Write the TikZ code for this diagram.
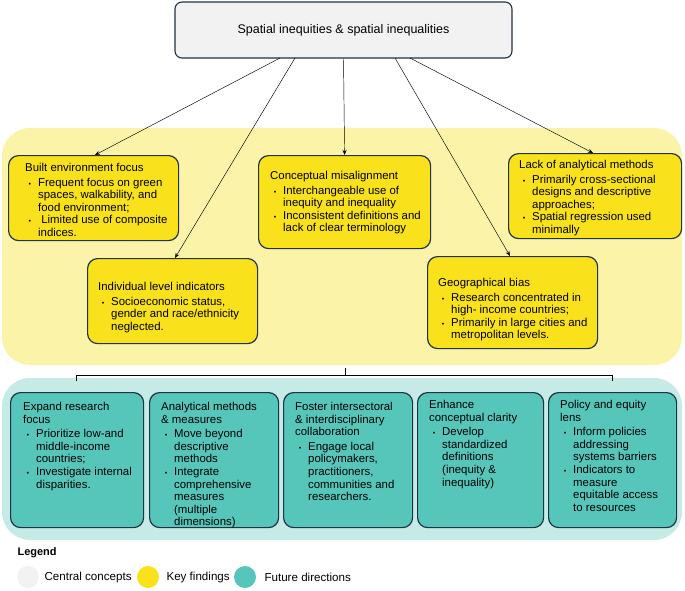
\documentclass[tikz,border=0pt]{standalone}
\usepackage{fontspec}
\setmainfont{Liberation Sans}
\usepackage{enumitem}
\usetikzlibrary{arrows.meta}
\definecolor{dk}{HTML}{1F3344}
\definecolor{ybg}{HTML}{FBF4A8}
\definecolor{yb}{HTML}{F9E21B}
\definecolor{tbg}{HTML}{C6EBE6}
\definecolor{tb}{HTML}{57C6BA}
\definecolor{gb}{HTML}{F2F2F2}
\newlist{bl}{itemize}{1}
\setlist[bl]{label={\scriptsize\textbullet},leftmargin=13pt,labelsep=7pt,itemsep=0pt,topsep=2pt,parsep=0pt,partopsep=0pt}
\tikzset{
 box/.style={draw=dk,line width=1.2pt,rounded corners=10pt,anchor=north west,inner sep=0pt},
 yel/.style={box,fill=yb},
 tea/.style={box,fill=tb},
 arr/.style={-{Stealth[length=5pt,width=4pt]},line width=0.45pt},
 txt/.style={anchor=north west,inner sep=0pt,font=\fontsize{11.4}{12.6}\selectfont},
}
\newcommand{\boxtext}[3]{\begin{minipage}[t]{#1pt}\raggedright\hyphenpenalty=10000 \exhyphenpenalty=10000 #2\begin{bl}#3\end{bl}\end{minipage}}
\begin{document}
\begin{tikzpicture}[x=1pt,y=-1pt]
\useasboundingbox (0,0) rectangle (685,591);
\fill[ybg,rounded corners=28pt] (2,128) rectangle (682,365);
\fill[tbg,rounded corners=28pt] (2,378) rectangle (682,540);
\node[draw=dk,line width=1.1pt,fill=gb,rounded corners=7pt,minimum width=337pt,minimum height=56pt,font=\fontsize{12.5}{14}\selectfont] (top) at (343.5,30) {Spatial inequities \& spatial inequalities};
% yellow boxes
\node[yel,minimum width=170pt,minimum height=85pt] (be) at (8,155) {};
\node[txt] at (25,163) {\boxtext{150}{Built environment focus}{\item Frequent focus on green spaces, walkability, and food environment;\item \ Limited use of composite indices.}};
\node[yel,minimum width=170pt,minimum height=85pt] (ind) at (87,258) {};
\node[txt] at (98,282) {\boxtext{155}{Individual level indicators}{\item Socioeconomic status, gender and race/ethnicity neglected.}};
\node[yel,minimum width=172pt,minimum height=93pt] (con) at (258,155) {};
\node[txt] at (270,171) {\boxtext{158}{Conceptual misalignment}{\item Interchangeable use of inequity and inequality\item Inconsistent definitions and lack of clear terminology}};
\node[yel,minimum width=173pt,minimum height=85pt] (lack) at (508,153) {};
\node[txt] at (519,160) {\boxtext{158}{Lack of analytical methods}{\item Primarily cross-sectional designs and descriptive approaches;\item Spatial regression used minimally}};
\node[yel,minimum width=170pt,minimum height=92pt] (geo) at (427,256) {};
\node[txt] at (438,278) {\boxtext{152}{Geographical bias}{\item Research concentrated in high- income countries;\item Primarily in large cities and metropolitan levels.}};
% arrows
\draw[arr] (280,58) -- (be.north -| 95,0);
\draw[arr] (295,58) -- (ind.north -| 175,0);
\draw[arr] (top.south) -- (con.north);
\draw[arr] (395,58) -- (geo.north -| 510,0);
\draw[arr] (410,58) -- (lack.north -| 593,0);
% bracket
\coordinate (bc) at (345,368);
\draw[line width=0.5pt] (bc) -- (345,375);
\draw[line width=0.5pt] (76,381) -- (76,375) -- (612,375) -- (612,381);
% teal boxes
\foreach \n/\a/\b in {t1/10/143,t2/149/278,t3/283/412,t4/417/543,t5/548/676}{
  \node[tea,minimum width=\b pt-\a pt,minimum height=135pt] (\n) at (\a,392) {};
}
\node[txt] at (23,402) {\boxtext{112}{Expand research\\focus}{\item Prioritize low-and middle-income countries;\item Investigate internal disparities.}};
\node[txt] at (161,402) {\boxtext{100}{Analytical methods\\\& measures}{\item Move beyond descriptive methods\item Integrate comprehensive measures (multiple dimensions)}};
\node[txt] at (295,402) {\boxtext{112}{Foster intersectoral\\\& interdisciplinary\\collaboration}{\item Engage local policymakers, practitioners, communities and researchers.}};
\node[txt] at (429,400) {\boxtext{100}{Enhance\\conceptual clarity}{\item Develop standardized definitions (inequity \& inequality)}};
\node[txt] at (560,400) {\boxtext{104}{Policy and equity\\lens}{\item Inform policies addressing systems barriers\item Indicators to measure equitable access to resources}};
% legend
\node[anchor=west,font=\fontsize{11}{12}\selectfont\bfseries] (lg) at (14,553) {Legend};
\fill[gb] (28,577) circle (11pt);
\node[anchor=west,font=\fontsize{11.6}{13}\selectfont] (l1) at (41,577) {Central concepts};
\fill[yb] (148,577) circle (11pt);
\node[anchor=west,font=\fontsize{11.6}{13}\selectfont] (l2) at (163,577) {Key findings};
\fill[tb] (245,577) circle (11pt);
\node[anchor=west,font=\fontsize{11.6}{13}\selectfont] (l3) at (261,577) {Future directions};
\end{tikzpicture}
\end{document}
